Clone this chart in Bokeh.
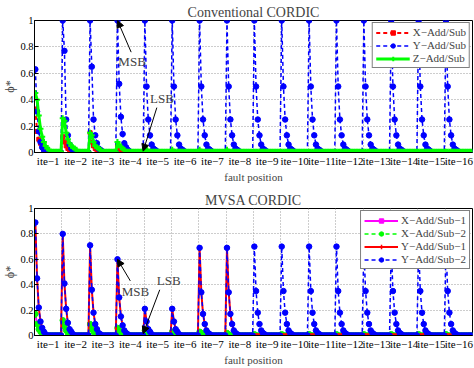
from bokeh.plotting import figure
from bokeh.layouts import column
from bokeh.models import Range1d, FixedTicker, Legend, LegendItem, Arrow, NormalHead, Label
from bokeh.embed import file_html
from bokeh.resources import INLINE

# ---------------- data ----------------
N_BITS = 16                      # fault positions per iteration (MSB .. LSB)
iterations = ["ite−%d" % i for i in range(1, 17)]
y_ticks = [0, 0.2, 0.4, 0.6, 0.8, 1]
y_tick_labels = ["0", "0.2", "0.4", "0.6", "0.8", "1"]
x_title = "fault position"
y_title = "ϕ*"

# Conventional CORDIC: values per iteration, listed from MSB; remaining bits take the floor value
conv_x_add = [
    [0.33, 0.16, 0.10, 0.07, 0.04, 0.02, 0.01],
    [0.12, 0.08, 0.05, 0.03, 0.02, 0.01],
    [0.15, 0.08, 0.05, 0.03, 0.02, 0.01],
    [0.05, 0.03, 0.02, 0.01],
    [0.02, 0.01], [0.01], [0.01], [0.01],
    [], [], [], [], [], [], [], [],
]
conv_x_floor = 0.0
conv_y_add = [
    [0.63, 0.31, 0.16, 0.08, 0.04, 0.02, 0.01],
    [1.00, 0.77, 0.25, 0.13, 0.06, 0.03, 0.02, 0.01],
    [1.00, 0.65, 0.25, 0.13, 0.07, 0.03, 0.02, 0.01],
    [1.00, 0.52, 0.27, 0.14, 0.07, 0.04, 0.02, 0.01],
    [1.00, 0.50, 0.25, 0.13, 0.06, 0.03, 0.02, 0.01],
    [1.00, 0.50, 0.25, 0.13, 0.06, 0.03, 0.02, 0.01],
    [1.00, 0.50, 0.25, 0.13, 0.06, 0.03, 0.02, 0.01],
    [1.00, 0.50, 0.25, 0.13, 0.06, 0.03, 0.02, 0.01],
    [1.00, 0.50, 0.25, 0.13, 0.06, 0.03, 0.02, 0.01],
    [1.00, 0.50, 0.25, 0.13, 0.06, 0.03, 0.02, 0.01],
    [1.00, 0.50, 0.25, 0.13, 0.06, 0.03, 0.02, 0.01],
    [1.00, 0.50, 0.25, 0.13, 0.06, 0.03, 0.02, 0.01],
    [1.00, 0.50, 0.25, 0.13, 0.06, 0.03, 0.02, 0.01],
    [1.00, 0.50, 0.25, 0.13, 0.06, 0.03, 0.02, 0.01],
    [1.00, 0.50, 0.25, 0.13, 0.06, 0.03, 0.02, 0.01],
    [1.00, 0.50, 0.25, 0.13, 0.06, 0.03, 0.02, 0.01],
]
conv_y_floor = 0.0
conv_z_add = [
    [0.45, 0.40, 0.28, 0.18, 0.12, 0.08, 0.05, 0.03, 0.02],
    [0.26, 0.24, 0.15, 0.10, 0.07, 0.05, 0.04, 0.03, 0.02],
    [0.15, 0.13, 0.08, 0.05, 0.04, 0.03, 0.02],
    [0.08, 0.06, 0.04, 0.03, 0.02],
    [0.03, 0.02], [0.02], [0.02], [0.02],
    [], [], [], [], [], [], [], [],
]
conv_z_floor = 0.005

# MVSA CORDIC
mvsa_x1_add = [
    [0.17, 0.09, 0.05, 0.03, 0.02, 0.01],
    [0.12, 0.07, 0.04, 0.02, 0.01],
    [0.09, 0.05, 0.03, 0.02, 0.01],
    [0.06, 0.04, 0.02, 0.01],
    [0.04, 0.02, 0.01],
    [0.03, 0.02, 0.01],
    [0.03, 0.02, 0.01],
    [0.02, 0.01],
    [0.01], [0.01], [0.01], [0.01], [0.01], [0.01], [0.01], [0.01],
]
mvsa_x2_add = [
    [0.17, 0.09, 0.05, 0.03, 0.02, 0.01],
    [0.12, 0.07, 0.04, 0.02, 0.01],
    [0.09, 0.05, 0.03, 0.02, 0.01],
    [0.06, 0.04, 0.02, 0.01],
    [0.04, 0.02, 0.01],
    [0.03, 0.02, 0.01],
    [0.03, 0.02, 0.01],
    [0.02, 0.01],
    [0.01], [0.01], [0.01], [0.01], [0.01], [0.01], [0.01], [0.01],
]
mvsa_y1_add = [
    [0.89, 0.45, 0.22, 0.11, 0.06, 0.03, 0.01],
    [0.80, 0.41, 0.21, 0.10, 0.05, 0.03, 0.01],
    [0.71, 0.36, 0.18, 0.09, 0.05, 0.02, 0.01],
    [0.60, 0.30, 0.15, 0.08, 0.04, 0.02, 0.01],
    [0.21, 0.11, 0.05, 0.03, 0.01],
    [0.21, 0.11, 0.05, 0.03, 0.01],
    [0.69, 0.34, 0.17, 0.09, 0.04, 0.02, 0.01],
    [0.69, 0.34, 0.17, 0.09, 0.04, 0.02, 0.01],
    [], [], [], [], [], [], [], [],
]
mvsa_y2_add = [
    [0.89, 0.45, 0.22, 0.11, 0.06, 0.03, 0.01],
    [0.80, 0.41, 0.21, 0.10, 0.05, 0.03, 0.01],
    [0.71, 0.36, 0.18, 0.09, 0.05, 0.02, 0.01],
    [0.60, 0.30, 0.15, 0.08, 0.04, 0.02, 0.01],
    [0.21, 0.11, 0.05, 0.03, 0.01],
    [0.21, 0.11, 0.05, 0.03, 0.01],
    [0.69, 0.34, 0.17, 0.09, 0.04, 0.02, 0.01],
    [0.69, 0.34, 0.17, 0.09, 0.04, 0.02, 0.01],
    [0.70, 0.35, 0.18, 0.09, 0.04, 0.02, 0.01],
    [0.70, 0.35, 0.18, 0.09, 0.04, 0.02, 0.01],
    [0.70, 0.35, 0.18, 0.09, 0.04, 0.02, 0.01],
    [0.70, 0.35, 0.18, 0.09, 0.04, 0.02, 0.01],
    [0.70, 0.35, 0.18, 0.09, 0.04, 0.02, 0.01],
    [0.70, 0.35, 0.18, 0.09, 0.04, 0.02, 0.01],
    [0.70, 0.35, 0.18, 0.09, 0.04, 0.02, 0.01],
    [0.70, 0.35, 0.18, 0.09, 0.04, 0.02, 0.01],
]

# annotation targets: (iteration number, bit index)
msb_target = (4, 0)
lsb_target = (4, N_BITS - 1)

SERIF = "Liberation Serif"
TOTAL = N_BITS * len(iterations)


def expand(heads, floor=0.0):
    xs, ys = [], []
    for i, head in enumerate(heads):
        for j in range(N_BITS):
            xs.append(i * N_BITS + j + 0.5)
            ys.append(head[j] if j < len(head) else floor)
    return xs, ys


def bit_x(target):
    return (target[0] - 1) * N_BITS + target[1] + 0.5


def bit_y(heads, target, floor=0.0):
    return expand(heads, floor)[1][(target[0] - 1) * N_BITS + target[1]]


def make_fig(title, height, top, bottom):
    p = figure(width=474, height=height, x_range=Range1d(0, TOTAL), y_range=Range1d(0, 1),
               output_backend="svg", toolbar_location=None,
               min_border_left=28, min_border_right=2,
               min_border_top=top, min_border_bottom=bottom)
    p.title.text = title
    p.title.align = "center"
    p.title.text_font = SERIF
    p.title.text_font_size = "14px"
    p.title.text_font_style = "normal"
    p.title.standoff = 2
    p.outline_line_color = "black"
    p.outline_line_alpha = 1
    p.outline_line_width = 1
    p.background_fill_color = "white"
    p.border_fill_color = "white"

    centers = [i * N_BITS + N_BITS // 2 for i in range(len(iterations))]
    p.xaxis.ticker = FixedTicker(ticks=centers)
    p.xaxis.major_label_overrides = {c: lab for c, lab in zip(centers, iterations)}
    p.xaxis.major_tick_in = 0
    p.xaxis.major_tick_out = 0
    p.xaxis.minor_tick_line_color = None
    p.xaxis.major_label_standoff = 2
    p.xaxis.major_label_text_font = SERIF
    p.xaxis.major_label_text_font_size = "11px"
    p.xaxis.major_label_text_color = "black"
    p.xaxis.axis_label = x_title
    p.xaxis.axis_label_text_font = SERIF
    p.xaxis.axis_label_text_font_size = "11px"
    p.xaxis.axis_label_text_font_style = "normal"
    p.xaxis.axis_label_standoff = 1

    p.yaxis.ticker = FixedTicker(ticks=y_ticks)
    p.yaxis.major_label_overrides = {t: lab for t, lab in zip(y_ticks, y_tick_labels)}
    p.yaxis.major_tick_in = 4
    p.yaxis.major_tick_out = 0
    p.yaxis.minor_tick_line_color = None
    p.yaxis.major_label_standoff = 1
    p.yaxis.major_label_text_font = SERIF
    p.yaxis.major_label_text_font_size = "10.5px"
    p.yaxis.major_label_text_color = "black"
    p.yaxis.axis_label = y_title
    p.yaxis.axis_label_text_font = SERIF
    p.yaxis.axis_label_text_font_size = "12px"
    p.yaxis.axis_label_text_font_style = "normal"
    p.yaxis.axis_label_standoff = 0

    bounds = [i * N_BITS for i in range(1, len(iterations))]
    p.xgrid.ticker = FixedTicker(ticks=bounds)
    p.ygrid.ticker = FixedTicker(ticks=y_ticks[1:-1])
    for g in (p.xgrid, p.ygrid):
        g.grid_line_color = "#9a9a9a"
        g.grid_line_dash = "1 2"
        g.grid_line_width = 1
    return p


def style_legend(p, items):
    leg = Legend(items=items, location="top_right")
    leg.border_line_color = "black"
    leg.border_line_width = 1
    leg.background_fill_alpha = 1
    leg.label_text_font = SERIF
    leg.label_text_font_size = "11px"
    leg.glyph_width = 34
    leg.glyph_height = 11
    leg.label_height = 11
    leg.spacing = 1
    leg.padding = 3
    leg.margin = 2
    leg.label_standoff = 3
    p.add_layout(leg)


def arrow(p, x0, y0, x1, y1):
    p.add_layout(Arrow(end=NormalHead(size=7, fill_color="black", line_color="black", line_width=1),
                       x_start=x0, y_start=y0, x_end=x1, y_end=y1,
                       line_color="black", line_width=1))


def text(p, x, y, s, size="13px"):
    p.add_layout(Label(x=x, y=y, text=s, text_font=SERIF, text_font_size=size,
                       text_baseline="middle", text_align="left"))


# ---------------- top: Conventional CORDIC ----------------
p1 = make_fig("Conventional CORDIC", 185, 20, 33)

xs, ys = expand(conv_x_add, conv_x_floor)
r1l = p1.line(xs, ys, color="#ff0000", line_width=2, line_dash="4 3")
r1s = p1.scatter(xs, ys, marker="square", size=4, color="#ff0000")
xs, ys = expand(conv_y_add, conv_y_floor)
r2l = p1.line(xs, ys, color="#0000ff", line_width=1.5, line_dash="4 3")
r2s = p1.scatter(xs, ys, marker="circle", size=5.5, color="#0000ff")
xs, ys = expand(conv_z_add, conv_z_floor)
r3l = p1.line(xs, ys, color="#00ff00", line_width=3)
r3s = p1.scatter(xs, ys, marker="cross", size=6, line_width=2, color="#00ff00")

style_legend(p1, [
    LegendItem(label="X−Add/Sub", renderers=[r1l, r1s]),
    LegendItem(label="Y−Add/Sub", renderers=[r2l, r2s]),
    LegendItem(label="Z−Add/Sub", renderers=[r3l, r3s]),
])

arrow(p1, 56.5, 0.76, bit_x(msb_target), bit_y(conv_y_add, msb_target))
text(p1, 49, 0.69, "MSB")
arrow(p1, 71.5, 0.34, bit_x(lsb_target), 0.01)
text(p1, 67.5, 0.41, "LSB")

# ---------------- bottom: MVSA CORDIC ----------------
p2 = make_fig("MVSA CORDIC", 183, 23, 30)

xs, ys = expand(mvsa_x1_add)
q1l = p2.line(xs, ys, color="#ff00ff", line_width=2)
q1s = p2.scatter(xs, ys, marker="square", size=4, color="#ff00ff")
xs, ys = expand(mvsa_x2_add)
q2l = p2.line(xs, ys, color="#00ff00", line_width=1.5, line_dash="4 3")
q2s = p2.scatter(xs, ys, marker="circle", size=5.5, color="#00ff00")
xs, ys = expand(mvsa_y1_add)
q3l = p2.line(xs, ys, color="#ff0000", line_width=2)
q3s = p2.scatter(xs, ys, marker="cross", size=5, line_width=1.5, color="#ff0000")
xs, ys = expand(mvsa_y2_add)
q4l = p2.line(xs, ys, color="#0000ff", line_width=1.5, line_dash="4 3")
q4s = p2.scatter(xs, ys, marker="circle", size=5.5, color="#0000ff")

style_legend(p2, [
    LegendItem(label="X−Add/Sub−1", renderers=[q1l, q1s]),
    LegendItem(label="X−Add/Sub−2", renderers=[q2l, q2s]),
    LegendItem(label="Y−Add/Sub−1", renderers=[q3l, q3s]),
    LegendItem(label="Y−Add/Sub−2", renderers=[q4l, q4s]),
])

arrow(p2, 56, 0.43, bit_x(msb_target), bit_y(mvsa_y2_add, msb_target))
text(p2, 51, 0.35, "MSB")
arrow(p2, 73.2, 0.36, bit_x(lsb_target), 0.015)
text(p2, 71.5, 0.43, "LSB")

layout = column(p1, p2, spacing=0)
open("out.html", "w").write(file_html(layout, INLINE))
